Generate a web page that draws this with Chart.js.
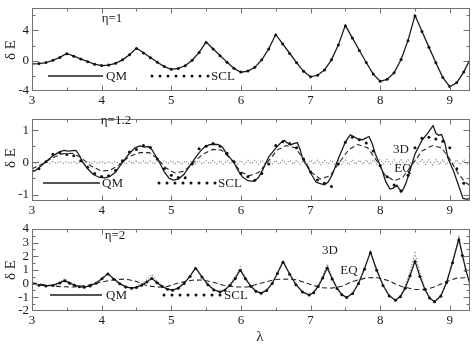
<!DOCTYPE html>
<html><head><meta charset="utf-8">
<script src="https://cdn.jsdelivr.net/npm/chart.js@4.4.1/dist/chart.umd.min.js"></script>
<style>
html,body{margin:0;padding:0;background:#fff;}
#wrap{position:relative;width:474px;height:345px;overflow:hidden;background:#fff;}
canvas{position:absolute;left:0;}
</style></head><body>
<div id="wrap">
<canvas id="c1" width="474" height="111" style="top:-3px"></canvas>
<canvas id="c2" width="474" height="111" style="top:108px"></canvas>
<canvas id="c3" width="474" height="127" style="top:218px"></canvas>
</div>
<script>
// ---------- tick labels ----------
const xTickLabels = ['3','4','5','6','7','8','9'];
const p1YLabels = ['-4','0','4'];
const p2YLabels = ['-1','0','1'];
const p3YLabels = ['-2','-1','0','1','2','3','4'];

// ---------- shared 0.1 grid (lambda) ----------
const gridX = [3.0,3.1,3.2,3.3,3.4,3.5,3.6,3.7,3.8,3.9,4.0,4.1,4.2,4.3,4.4,4.5,4.6,4.7,4.8,4.9,
  5.0,5.1,5.2,5.3,5.4,5.5,5.6,5.7,5.8,5.9,6.0,6.1,6.2,6.3,6.4,6.5,6.6,6.7,6.8,6.9,
  7.0,7.1,7.2,7.3,7.4,7.5,7.6,7.7,7.8,7.9,8.0,8.1,8.2,8.3,8.4,8.5,8.6,8.7,8.8,8.9,9.0,9.1,9.2,9.3];

// ---------- panel 1 (eta=1) ----------
const qm1 = [-0.42,-0.38,-0.24,0.04,0.44,0.96,0.60,0.24,-0.11,-0.44,-0.65,-0.58,-0.35,0.12,0.79,1.68,1.05,0.43,-0.19,-0.77,
  -1.13,-1.02,-0.66,0.06,1.10,2.47,1.58,0.69,-0.18,-1.01,-1.52,-1.37,-0.87,0.13,1.58,3.48,2.23,0.99,-0.24,-1.40,
  -2.12,-1.92,-1.24,0.12,2.10,4.68,3.03,1.39,-0.23,-1.77,-2.72,-2.46,-1.59,0.16,2.69,6.00,3.89,1.80,-0.27,-2.23,-3.44,-2.90,-1.50,0.40];
const scl1 = [-0.40,-0.37,-0.22,0.05,0.44,0.92,0.58,0.22,-0.12,-0.45,-0.64,-0.57,-0.34,0.12,0.78,1.62,1.02,0.41,-0.20,-0.76,
  -1.12,-1.01,-0.65,0.07,1.08,2.40,1.55,0.67,-0.19,-1.00,-1.50,-1.36,-0.86,0.14,1.56,3.40,2.20,0.97,-0.25,-1.39,
  -2.10,-1.91,-1.23,0.13,2.08,4.60,3.00,1.37,-0.24,-1.76,-2.70,-2.45,-1.58,0.17,2.66,5.92,3.86,1.78,-0.28,-2.22,-3.42,-2.88,-1.48,0.38];

// ---------- panel 2 (eta=1.2) ----------
const qm2X = [3.00,3.05,3.10,3.19,3.30,3.40,3.46,3.52,3.58,3.63,3.68,3.73,3.80,3.88,3.97,4.05,4.12,4.20,4.30,4.40,
  4.48,4.55,4.61,4.67,4.72,4.78,4.83,4.90,4.97,5.03,5.10,5.18,5.30,5.40,5.48,5.55,5.62,5.68,5.74,5.80,
  5.85,5.90,5.95,6.02,6.10,6.18,6.25,6.31,6.40,6.50,6.57,6.62,6.67,6.71,6.76,6.81,6.85,6.89,6.95,7.02,
  7.08,7.14,7.20,7.25,7.31,7.41,7.50,7.57,7.62,7.68,7.74,7.80,7.84,7.89,7.93,8.02,8.08,8.14,8.19,8.24,
  8.28,8.32,8.36,8.41,8.50,8.60,8.68,8.76,8.80,8.84,8.88,8.93,8.97,9.05,9.11,9.19,9.25,9.29];
const qm2Y = [-0.30,-0.25,-0.17,0.00,0.20,0.33,0.37,0.35,0.36,0.37,0.22,0.00,-0.20,-0.38,-0.47,-0.48,-0.44,-0.30,0.00,0.28,
  0.45,0.51,0.47,0.49,0.40,0.18,0.00,-0.30,-0.50,-0.55,-0.52,-0.38,0.00,0.30,0.48,0.55,0.56,0.55,0.45,0.25,
  0.12,0.00,-0.22,-0.45,-0.57,-0.59,-0.48,-0.25,0.17,0.44,0.60,0.68,0.60,0.54,0.58,0.61,0.40,0.08,-0.11,-0.40,
  -0.62,-0.66,-0.70,-0.62,-0.39,0.17,0.63,0.85,0.80,0.72,0.70,0.76,0.80,0.55,0.26,-0.20,-0.60,-0.83,-0.80,-0.71,
  -0.85,-0.88,-0.70,-0.39,0.26,0.68,0.90,1.14,0.90,0.84,0.86,0.60,0.15,-0.25,-0.62,-1.12,-1.15,-1.10];
const scl2 = [-0.25,-0.20,0.02,0.25,0.30,0.24,0.20,0.05,-0.15,-0.35,-0.44,-0.42,-0.25,0.05,0.32,0.40,0.52,0.46,0.10,-0.20,
  -0.40,-0.47,-0.48,-0.05,0.42,0.50,0.58,0.50,0.28,0.02,-0.35,-0.45,-0.56,-0.35,-0.05,0.52,0.64,0.58,0.45,0.10,
  -0.30,-0.55,-0.65,-0.75,-0.05,0.62,0.78,0.70,0.60,0.35,-0.10,-0.45,-0.70,-0.90,-0.40,0.45,0.75,0.78,0.72,0.65,0.45,-0.20,-0.65,-0.80];
const eq2X = [3.00,3.15,3.30,3.45,3.58,3.70,3.85,4.00,4.12,4.25,4.40,4.55,4.68,4.80,4.92,5.05,5.18,5.30,5.45,5.60,
  5.72,5.85,6.00,6.12,6.25,6.40,6.52,6.65,6.78,6.90,7.02,7.14,7.28,7.40,7.55,7.68,7.82,7.95,8.07,8.20,
  8.32,8.45,8.60,8.75,8.88,9.00,9.12,9.22,9.29];
const eq2Y = [-0.20,-0.05,0.15,0.27,0.28,0.15,-0.12,-0.27,-0.25,-0.08,0.18,0.30,0.30,0.12,-0.17,-0.33,-0.28,-0.05,0.25,0.40,
  0.38,0.12,-0.30,-0.42,-0.32,0.05,0.38,0.52,0.45,0.10,-0.32,-0.52,-0.42,-0.05,0.40,0.55,0.45,0.05,-0.40,-0.57,
  -0.48,-0.10,0.35,0.52,0.45,0.10,-0.35,-0.62,-0.72];
const d3X2 = [3.00,3.05,3.10,3.15,3.20,3.25,3.30,3.35,3.40,3.45,3.50,3.55,3.60,3.65,3.70,3.75,3.80,3.85,3.90,3.95,
  4.00,4.05,4.10,4.15,4.20,4.25,4.30,4.35,4.40,4.45,4.50,4.55,4.60,4.65,4.70,4.75,4.80,4.85,4.90,4.95,
  5.00,5.05,5.10,5.15,5.20,5.25,5.30,5.35,5.40,5.45,5.50,5.55,5.60,5.65,5.70,5.75,5.80,5.85,5.90,5.95,
  6.00,6.05,6.10,6.15,6.20,6.25,6.30,6.35,6.40,6.45,6.50,6.55,6.60,6.65,6.70,6.75,6.80,6.85,6.90,6.95,
  7.00,7.05,7.10,7.15,7.20,7.25,7.30,7.35,7.40,7.45,7.50,7.55,7.60,7.65,7.70,7.75,7.80,7.85,7.90,7.95,
  8.00,8.05,8.10,8.15,8.20,8.25,8.30,8.35,8.40,8.45,8.50,8.55,8.60,8.65,8.70,8.75,8.80,8.85,8.90,8.95,
  9.00,9.05,9.10,9.15,9.20,9.25,9.30];
const d3Y2 = [-0.02,-0.03,0.00,-0.03,0.01,-0.03,0.02,-0.03,0.02,-0.03, 0.02,-0.04,0.02,-0.04,0.03,-0.04,0.03,-0.04,0.02,-0.04,
  0.03,-0.04,0.03,-0.04,0.03,-0.05,0.03,-0.05,0.04,-0.05, 0.04,-0.04,0.04,-0.05,0.04,-0.05,0.04,-0.05,0.05,-0.04,
  0.05,-0.05,0.04,-0.05,0.05,-0.05,0.05,-0.05,0.05,-0.05, 0.05,-0.05,0.06,-0.05,0.05,-0.06,0.06,-0.05,0.06,-0.06,
  0.05,-0.06,0.06,-0.05,0.06,-0.06,0.06,-0.06,0.07,-0.05, 0.06,-0.06,0.07,-0.06,0.06,-0.06,0.07,-0.06,0.06,-0.07,
  0.07,-0.06,0.07,-0.07,0.06,-0.06,0.07,-0.07,0.07,-0.06, 0.07,-0.07,0.08,-0.06,0.07,-0.07,0.08,-0.07,0.08,-0.06,
  0.09,-0.05,0.09,-0.06,0.08,-0.07,0.08,-0.07,0.08,-0.07, 0.08,-0.07,0.09,-0.07,0.08,-0.08,0.09,-0.07,0.08,-0.08,
  0.09,-0.07,0.08,-0.08,0.09,-0.07,0.08];

// ---------- panel 3 (eta=2) ----------
const qm3X = [3.00,3.10,3.20,3.30,3.40,3.47,3.54,3.61,3.68,3.75,3.835,3.92,4.005,4.09,4.175,4.26,4.345,4.43,4.50,4.575,
  4.65,4.72,4.795,4.87,4.945,5.02,5.10,5.185,5.27,5.35,5.44,5.525,5.61,5.70,5.77,5.845,5.92,5.99,6.065,6.14,
  6.215,6.29,6.37,6.45,6.525,6.605,6.70,6.79,6.885,6.98,7.045,7.11,7.175,7.24,7.31,7.38,7.45,7.52,7.605,7.69,
  7.775,7.86,7.95,8.04,8.13,8.22,8.29,8.36,8.43,8.50,8.57,8.64,8.71,8.78,8.87,8.955,9.04,9.13,9.18,9.23,9.29];
const qm3Y = [0.00,-0.10,-0.17,-0.12,0.05,0.22,0.04,-0.11,-0.22,-0.26,-0.17,0.04,0.36,0.72,0.33,0.00,-0.24,-0.33,-0.27,-0.11,
  0.12,0.39,0.07,-0.21,-0.40,-0.48,-0.33,0.02,0.54,1.14,0.49,-0.07,-0.45,-0.61,-0.47,-0.11,0.40,0.99,0.36,-0.18,
  -0.55,-0.70,-0.49,0.01,0.75,1.60,0.70,-0.08,-0.61,-0.83,-0.65,-0.21,0.42,1.16,0.36,-0.34,-0.81,-1.01,-0.71,0.02,
  1.08,2.30,1.00,-0.12,-0.89,-1.21,-0.95,-0.33,0.59,1.64,0.54,-0.40,-1.05,-1.32,-0.91,0.10,1.56,3.25,2.10,1.00,-0.05];
const scl3 = [-0.02,-0.12,-0.18,-0.13,0.04,0.20,0.03,-0.12,-0.23,-0.27,-0.18,0.03,0.35,0.70,0.32,-0.01,-0.25,-0.34,-0.28,-0.12,
  0.11,0.37,0.06,-0.22,-0.41,-0.49,-0.34,0.01,0.52,1.10,0.48,-0.08,-0.46,-0.62,-0.48,-0.12,0.38,0.96,0.35,-0.19,
  -0.56,-0.71,-0.50,0.00,0.73,1.56,0.68,-0.09,-0.62,-0.84,-0.66,-0.22,0.40,1.12,0.34,-0.35,-0.82,-1.02,-0.72,0.01,
  1.05,2.25,0.98,-0.13,-0.90,-1.22,-0.96,-0.34,0.57,1.60,0.52,-0.41,-1.06,-1.33,-0.92,0.08,1.52,3.18,2.05,0.96,-0.08];
const d3Y3 = [0.00,-0.08,-0.15,-0.08,0.12,0.37,0.10,-0.08,-0.20,-0.24,-0.15,0.06,0.40,0.77,0.37,0.03,-0.22,-0.31,-0.22,0.00,
  0.28,0.66,0.20,-0.15,-0.37,-0.46,-0.30,0.05,0.58,1.18,0.52,-0.04,-0.42,-0.58,-0.42,-0.02,0.55,1.22,0.48,-0.12,
  -0.52,-0.68,-0.46,0.04,0.78,1.65,0.73,-0.05,-0.58,-0.80,-0.60,-0.12,0.58,1.43,0.50,-0.28,-0.78,-0.99,-0.69,0.05,
  1.12,2.35,1.03,-0.10,-0.87,-1.19,-0.88,-0.15,0.92,2.24,0.82,-0.30,-1.02,-1.30,-0.89,0.13,1.62,3.40,2.20,1.05,0.00];
const eq3X = [3.00,3.20,3.40,3.60,3.80,4.00,4.20,4.35,4.50,4.65,4.80,4.95,5.10,5.30,5.45,5.60,5.75,5.95,6.10,6.30,
  6.50,6.65,6.80,6.95,7.15,7.30,7.45,7.60,7.80,7.95,8.10,8.30,8.50,8.65,8.80,8.95,9.10,9.29];
const eq3Y = [0.05,-0.10,-0.22,-0.25,-0.12,0.12,0.30,0.33,0.15,-0.15,-0.26,-0.20,0.05,0.25,0.26,0.10,-0.12,-0.25,-0.24,0.05,
  0.30,0.33,0.28,0.02,-0.30,-0.33,-0.20,0.15,0.42,0.44,0.25,-0.20,-0.43,-0.44,-0.20,0.15,0.40,0.44];

// ---------- styling ----------
const INK = '#1c1c1c', FRAME = '#707070', GRAY = '#8a8a8a';
const SERIF = '"Liberation Serif","Times New Roman",serif';
const pts = (xs, ys) => xs.map((x, i) => ({x: x, y: ys[i]}));
const qmStyle = {label:'QM', borderColor:INK, borderWidth:1.3, pointRadius:0, tension:0, fill:false};
const sclStyle = {label:'SCL', showLine:false, pointRadius:1.5, pointBackgroundColor:'#111', pointBorderWidth:0, borderColor:'#111'};
const eqStyle = {label:'EQ', borderColor:'#262626', borderWidth:1.1, borderDash:[5,3], pointRadius:0, tension:0, fill:false};
const d3Style = {label:'3D', borderColor:GRAY, borderWidth:1.1, borderDash:[1.3,1.7], pointRadius:0, tension:0, fill:false};

const decoPlugin = {
  id: 'deco',
  afterDraw(chart, args, o) {
    const {ctx, chartArea: a} = chart;
    const xs = chart.scales.x, ys = chart.scales.y;
    ctx.save();
    const L = Math.round(a.left) + 0.5, R = Math.round(a.right) - 0.5;
    const T = Math.round(a.top) + 0.5, B = Math.round(a.bottom) - 0.5;
    ctx.strokeStyle = FRAME; ctx.lineWidth = 1; ctx.setLineDash([]);
    ctx.beginPath();
    for (let k = Math.ceil(xs.min / o.xMinor - 1e-9); k * o.xMinor <= xs.max + 1e-9; k++) {
      const v = k * o.xMinor;
      const p = Math.round(xs.getPixelForValue(v)) + 0.5;
      if (p <= L + 1 || p >= R - 1) continue;
      const major = Math.abs(v / o.xMajor - Math.round(v / o.xMajor)) < 1e-6;
      const len = major ? 5 : 3;
      ctx.moveTo(p, B); ctx.lineTo(p, B - len);
      ctx.moveTo(p, T); ctx.lineTo(p, T + len);
    }
    for (let k = Math.ceil(ys.min / o.yMinor - 1e-9); k * o.yMinor <= ys.max + 1e-9; k++) {
      const v = k * o.yMinor;
      const p = Math.round(ys.getPixelForValue(v)) + 0.5;
      if (p <= T + 1 || p >= B - 1) continue;
      const major = Math.abs(v / o.yMajor - Math.round(v / o.yMajor)) < 1e-6;
      const len = major ? 6 : 3;
      ctx.moveTo(L, p); ctx.lineTo(L + len, p);
      ctx.moveTo(R, p); ctx.lineTo(R - len, p);
    }
    ctx.stroke();
    ctx.strokeRect(L, T, R - L, B - T);

    ctx.textBaseline = 'middle';
    (o.legend || []).forEach(it => {
      const ds = chart.data.datasets[it.ds];
      if (ds.showLine === false) {
        ctx.fillStyle = ds.pointBackgroundColor;
        for (let x = it.x1; x <= it.x2 + 0.01; x += it.gap) {
          ctx.beginPath(); ctx.arc(x, it.y, ds.pointRadius, 0, Math.PI * 2); ctx.fill();
        }
      } else {
        ctx.strokeStyle = ds.borderColor; ctx.lineWidth = ds.borderWidth;
        ctx.setLineDash(ds.borderDash || []);
        ctx.beginPath(); ctx.moveTo(it.x1, it.y); ctx.lineTo(it.x2, it.y); ctx.stroke();
        ctx.setLineDash([]);
      }
      ctx.fillStyle = INK;
      ctx.font = '13px ' + SERIF;
      ctx.textAlign = 'left';
      ctx.textBaseline = 'middle';
      ctx.fillText(ds.label, it.tx, it.y + 0.5);
    });
    (o.texts || []).forEach(t => {
      ctx.save();
      ctx.fillStyle = INK;
      ctx.font = (t.size || 13) + 'px ' + SERIF;
      ctx.textAlign = 'center';
      ctx.textBaseline = 'middle';
      ctx.translate(t.x, t.y);
      if (t.rot) ctx.rotate(t.rot);
      ctx.fillText(t.t, 0, 0);
      ctx.restore();
    });
    ctx.restore();
  }
};

function build(id, datasets, yr, xh, padTop, opt) {
  return new Chart(document.getElementById(id), {
    type: 'line',
    data: {datasets: datasets},
    options: {
      responsive: false, animation: false, devicePixelRatio: 1, events: [],
      layout: {padding: {top: padTop, right: 2, left: 0, bottom: 0}},
      plugins: {legend: {display: false}, tooltip: {enabled: false}, deco: opt},
      scales: {
        x: {
          type: 'linear', min: 3, max: 9.29,
          grid: {display: false, drawTicks: false}, border: {display: false},
          ticks: {stepSize: 1, includeBounds: false, autoSkip: false, maxRotation: 0, padding: 2, color: INK,
            font: {family: SERIF, size: 13},
            callback: v => xTickLabels.includes(String(v)) ? String(v) : ''},
          afterFit: s => { s.height = xh; }
        },
        y: {
          type: 'linear', min: yr.min, max: yr.max,
          grid: {display: false, drawTicks: false}, border: {display: false},
          ticks: {stepSize: yr.step, includeBounds: false, autoSkip: false, padding: 3, color: INK,
            font: {family: SERIF, size: 13},
            callback: v => yr.labels.includes(String(v)) ? String(v) : ''},
          afterFit: s => { s.width = 32; }
        }
      }
    },
    plugins: [decoPlugin]
  });
}

// panel 1
build('c1', [
  Object.assign({data: pts(gridX, scl1)}, sclStyle),
  Object.assign({data: pts(gridX, qm1)}, qmStyle)
], {min: -4, max: 7, step: 4, labels: p1YLabels}, 17, 2, {
  xMinor: 0.5, xMajor: 1, yMinor: 2, yMajor: 4,
  legend: [{ds: 1, x1: 48, x2: 103, y: 79, tx: 106}, {ds: 0, x1: 152, x2: 208, y: 79, gap: 8, tx: 211}],
  texts: [{t: 'η=1', x: 112, y: 22}, {t: 'δ E', x: 11, y: 53, size: 15, rot: -Math.PI / 2}]
});
// panel 2
build('c2', [
  Object.assign({data: pts(gridX, scl2)}, sclStyle),
  Object.assign({data: pts(qm2X, qm2Y)}, qmStyle),
  Object.assign({data: pts(eq2X, eq2Y)}, eqStyle),
  Object.assign({data: pts(d3X2, d3Y2)}, d3Style)
], {min: -1.2, max: 1.35, step: 1, labels: p2YLabels}, 18, 1, {
  xMinor: 0.5, xMajor: 1, yMinor: 0.5, yMajor: 1,
  legend: [{ds: 1, x1: 43, x2: 100, y: 75, tx: 102}, {ds: 0, x1: 159, x2: 215, y: 75, gap: 8, tx: 218}],
  texts: [{t: 'η=1.2', x: 116, y: 13}, {t: '3D', x: 401, y: 42}, {t: 'EQ', x: 403, y: 61},
          {t: 'δ E', x: 11, y: 50, size: 15, rot: -Math.PI / 2}]
});
// panel 3
build('c3', [
  Object.assign({data: pts(qm3X, scl3)}, sclStyle),
  Object.assign({data: pts(qm3X, qm3Y)}, qmStyle),
  Object.assign({data: pts(eq3X, eq3Y)}, eqStyle),
  Object.assign({data: pts(qm3X, d3Y3)}, d3Style)
], {min: -2, max: 4, step: 1, labels: p3YLabels}, 34, 1, {
  xMinor: 0.5, xMajor: 1, yMinor: 0.5, yMajor: 1,
  legend: [{ds: 1, x1: 50, x2: 102, y: 77, tx: 106}, {ds: 0, x1: 164, x2: 220, y: 77, gap: 8, tx: 224}],
  texts: [{t: 'η=2', x: 115, y: 18}, {t: '3D', x: 330, y: 33}, {t: 'EQ', x: 349, y: 53},
          {t: 'δ E', x: 11, y: 52, size: 15, rot: -Math.PI / 2}, {t: 'λ', x: 260, y: 119, size: 15}]
});
</script>
</body></html>
